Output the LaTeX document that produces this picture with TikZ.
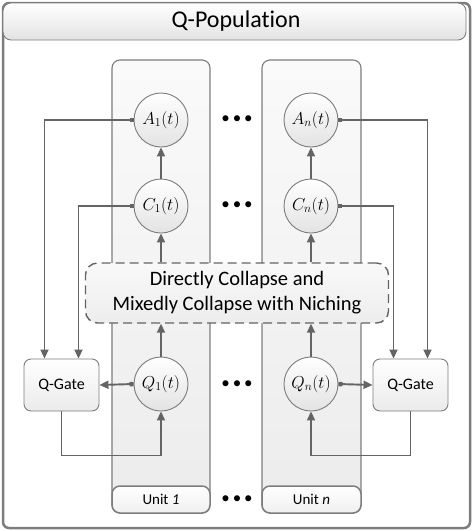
\documentclass[tikz,border=0pt]{standalone}
\usepackage{fontspec}
\setmainfont{Carlito}[Ligatures=NoCommon]
\usetikzlibrary{positioning,arrows.meta}
\definecolor{linegray}{RGB}{100,100,100}
\definecolor{framegray}{RGB}{125,125,125}

\begin{document}
\begin{tikzpicture}[x=1pt, y=-1pt,
    every node/.style={font=\fontsize{14}{16}\selectfont},
    unitcol/.style={draw=framegray, line width=1.1pt, rounded corners=8pt, top color=gray!4, bottom color=gray!15},
    unitlabel/.style={draw=framegray, line width=1.5pt, rounded corners=8pt, minimum width=98pt, minimum height=27pt, top color=white, bottom color=gray!12, font=\fontsize{15}{17}\selectfont},
    state/.style={circle, draw=framegray, line width=0.9pt, minimum size=54pt, inner sep=0pt, top color=white, bottom color=gray!22, font=\fontsize{18}{20}\selectfont},
    gate/.style={draw=framegray, line width=0.9pt, rounded corners=7pt, minimum width=75pt, minimum height=52pt, top color=white, bottom color=gray!16, font=\fontsize{16}{18}\selectfont},
    link/.style={draw=linegray, line width=1.9pt},
    arr/.style={link, -{Triangle[length=9pt,width=8pt]}},
    outarr/.style={link, {Rectangle[length=4pt,width=4.5pt]}-{Triangle[length=9pt,width=8pt]}},
    dots/.style={font=\fontsize{17}{17}\selectfont}]
    \useasboundingbox (0,0) rectangle (474,531);
    % frame and title
    \draw[framegray, line width=2.5pt, rounded corners=6pt] (3,3) rectangle (470,528);
    \draw[framegray, line width=0.9pt, rounded corners=8pt, top color=white, bottom color=gray!22] (3,3) rectangle (466,40);
    \node (pop) at (236,21) {\fontsize{24}{26}\selectfont Q-Populat\kern0pt ion};
    % units
    \draw[unitcol] (112,60) rectangle (210,513);
    \draw[unitcol] (262,60) rectangle (361,513);
    \node[unitlabel] (unitone) at (161,499.5) {Unit \textit{1}};
    \node[unitlabel, minimum width=99pt] (unitn) at (311.5,499.5) {Unit \textit{n}};
    % collapse box
    \node[draw=linegray, line width=1.4pt, dash pattern=on 9pt off 5pt, rounded corners=12pt, minimum width=303pt, minimum height=60pt, top color=gray!5, bottom color=gray!14, align=center, font=\fontsize{20.5}{25}\selectfont] (collapse) at (237,293) {Directly Collapse and\\Mixedly Collapse with Niching};
    % states
    \node[state] (A1) at (161,120) {$A_1(t)$};
    \node[state] (C1) at (161,206) {$C_1(t)$};
    \node[state] (Q1) at (161,384) {$Q_1(t)$};
    \node[state] (An) at (311,120) {$A_n(t)$};
    \node[state] (Cn) at (311,206) {$C_n(t)$};
    \node[state] (Qn) at (311,384) {$Q_n(t)$};
    \node[gate] (gateL) at (61.5,385) {Q-Gate};
    \node[gate] (gateR) at (410.5,385) {Q-Gate};
    \foreach \y in {120,206,385,500}
        \node[dots] at (237,\y) {•\hspace{3pt}•\hspace{3pt}•};
    % connectors
    \draw[arr] (C1) -- (A1);
    \draw[arr] (Cn) -- (An);
    \draw[arr] (collapse.north -| C1) -- (C1);
    \draw[arr] (collapse.north -| Cn) -- (Cn);
    \draw[arr] (Q1) -- (Q1 |- collapse.south);
    \draw[arr] (Qn) -- (Qn |- collapse.south);
    \draw[outarr] (A1.west) -| ([xshift=-17pt]gateL.north);
    \draw[outarr] (C1.west) -| ([xshift=17pt]gateL.north);
    \draw[outarr] (Q1.west) -- (gateL.east);
    \draw[arr] (gateL.south) -- ++(0,44) -| (Q1.south);
    \draw[outarr] (An.east) -| ([xshift=17pt]gateR.north);
    \draw[outarr] (Cn.east) -| ([xshift=-17pt]gateR.north);
    \draw[outarr] (Qn.east) -- (gateR.west);
    \draw[arr] (gateR.south) -- ++(0,44) -| (Qn.south);
\end{tikzpicture}
\end{document}
